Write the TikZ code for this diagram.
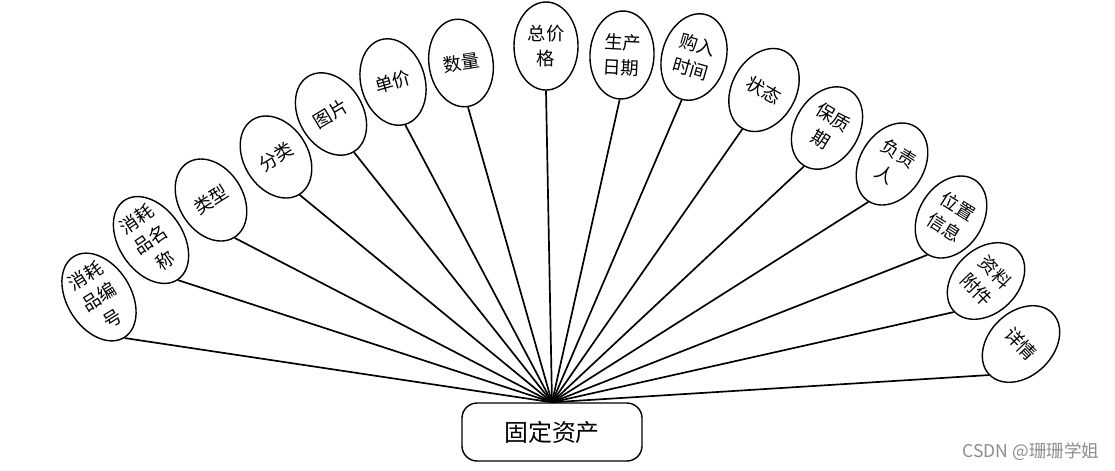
\documentclass[tikz,border=0pt]{standalone}
\usepackage{fontspec}
\setmainfont{Noto Sans CJK SC}
\usetikzlibrary{shapes.geometric}
\definecolor{ink}{HTML}{000000}
\definecolor{mark}{HTML}{8C8C8C}

\begin{document}
\begin{tikzpicture}[
  x=0.025cm,y=-0.025cm,
  attr/.style={draw=ink,ellipse,line width=1pt,minimum width=1.6cm,
    minimum height=2.2cm,inner sep=0pt,align=center,
    font=\fontsize{13}{18}\selectfont},
  entity/.style={draw=ink,rounded corners=.38cm,line width=1pt,
    minimum width=4.5cm,minimum height=1.45cm,
    font=\fontsize{17}{20}\selectfont},
  link/.style={draw=ink,line width=1.2pt}
]
  \useasboundingbox (0,0) rectangle (1115,470);
  \node[entity] (asset) at (552,432) {固定资产};

  \foreach \n/\x/\y/\r/\t in {1/99/297/32/{消耗\\品编\\号},
      2/151/240/34/{消耗\\品名\\称},3/211/200/32/类型,4/276/157/32/分类,
      5/331/114/31/图片,6/393/82/16/单价,7/461/63/9/数量,
      8/546/46/0/{总价\\格},9/622/55/-3/{生产\\日期},
      10/694/57/-16/{购入\\时间},11/764/90/-29/状态,
      12/827/128/-31/{保质\\期},13/892/164/-32/{负责\\人},
      14/951/217/-32/{位置\\信息},15/986/281/-46/{资料\\附件},
      16/1021/344/-46/详情}{
    \node[attr,rotate=\r] (e\n) at (\x,\y) {\t};
    \draw[link] (e\n.south) -- (asset.north);
  }

  \node[font=\fontsize{12.5}{14}\selectfont,text=mark] (wm) at (1031,452)
    {CSDN @珊珊学姐};
\end{tikzpicture}
\end{document}
